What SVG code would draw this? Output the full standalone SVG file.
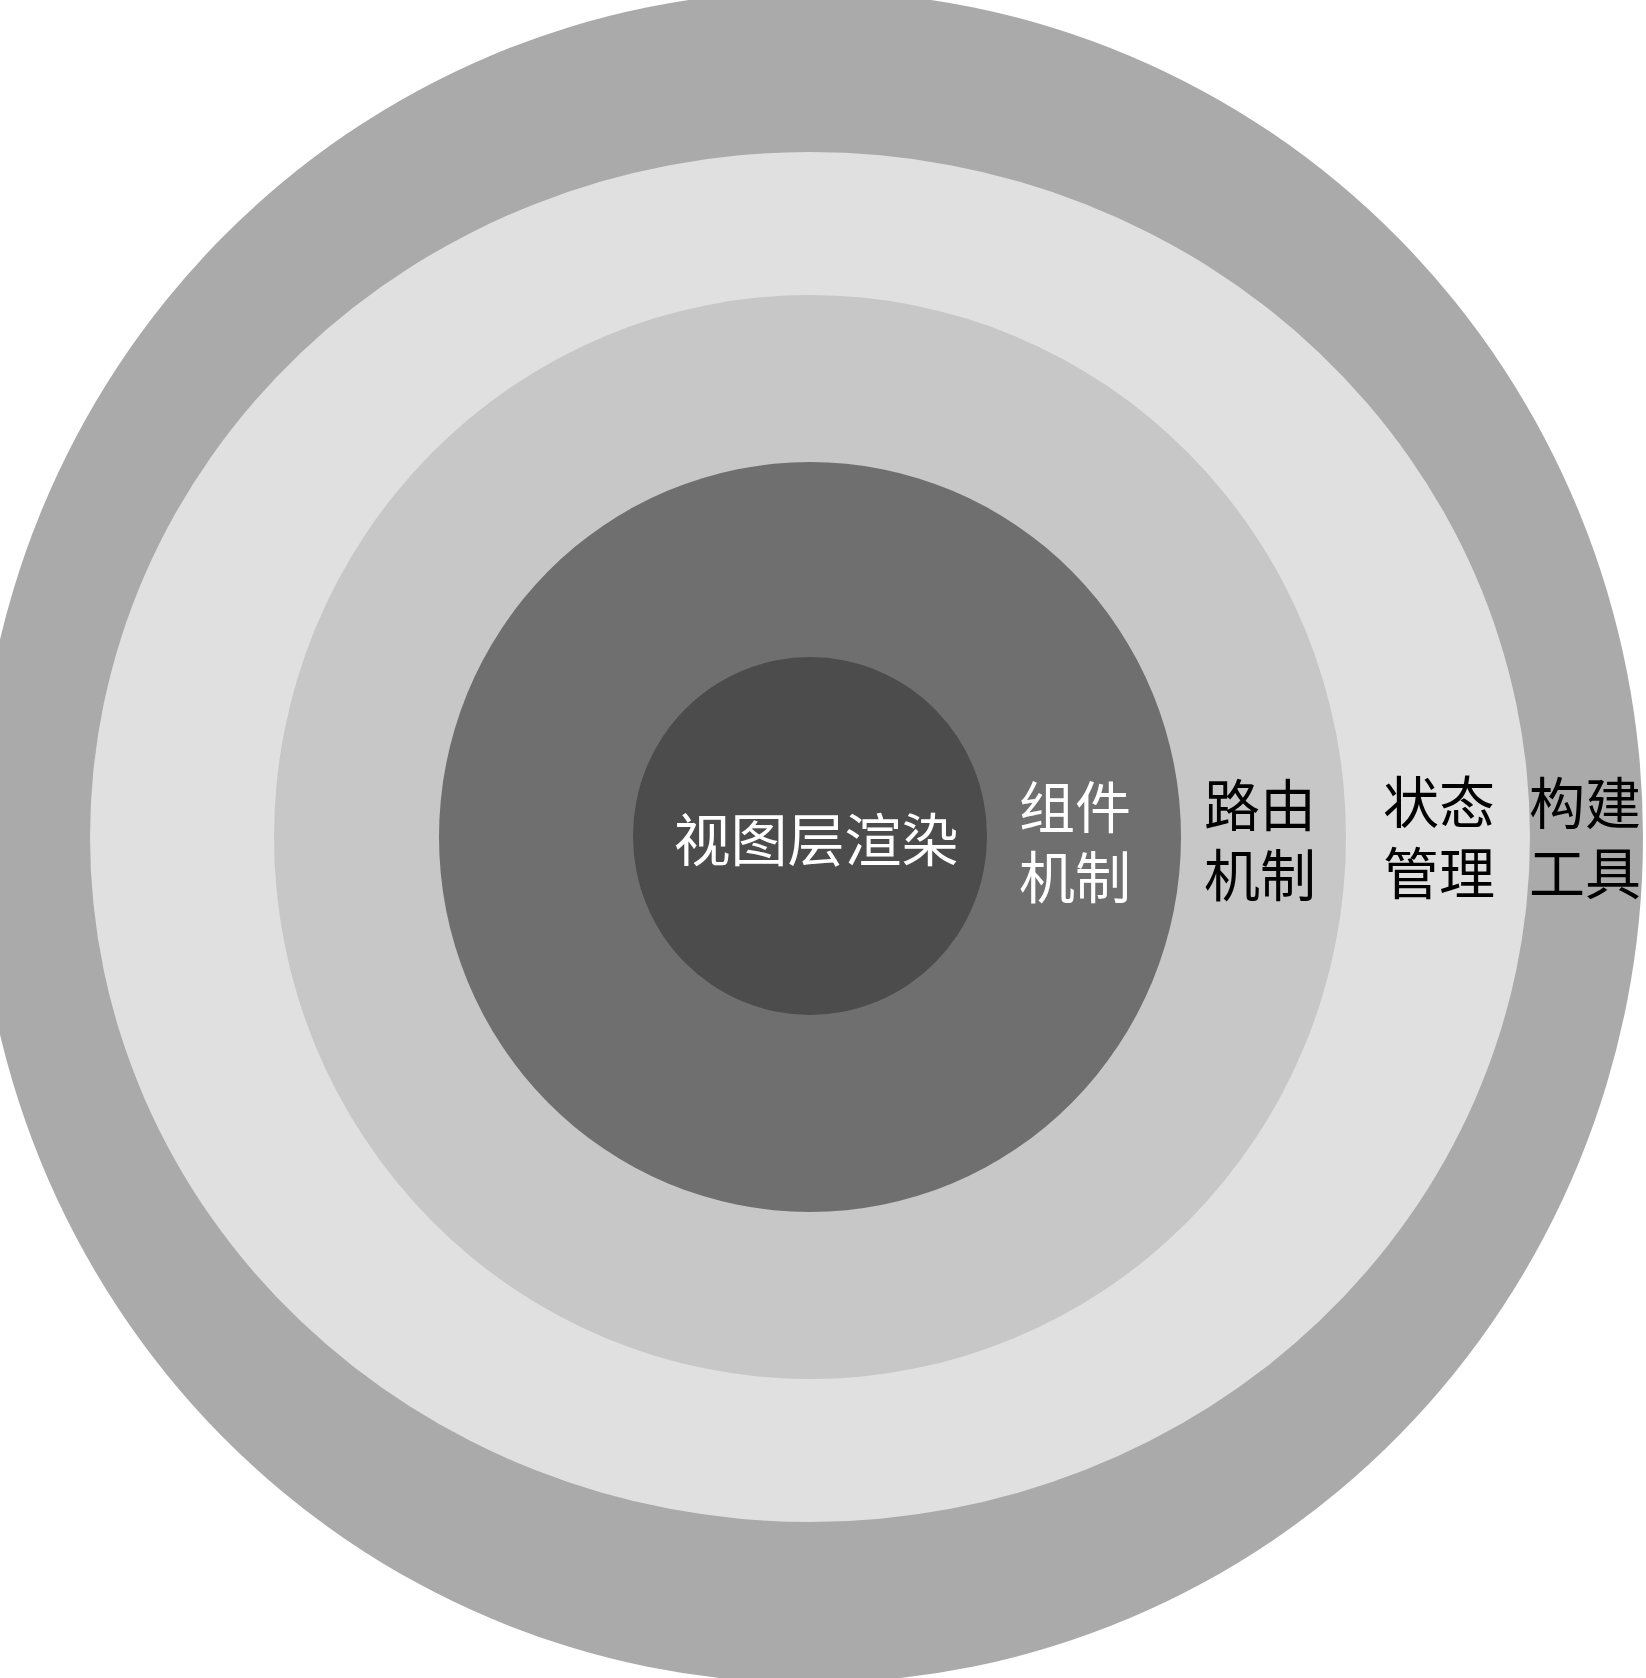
<svg xmlns="http://www.w3.org/2000/svg" width="1646" height="1678" viewBox="0 0 1646 1678">
  <style>
    .lbl { font-family: "Liberation Serif", "Noto Sans CJK SC", "Noto Sans CJK JP", serif; font-size: 56px; text-anchor: middle; }
    .w { fill: #ffffff; }
    .k { fill: #000000; }
  </style>
  <rect x="0" y="0" width="1646" height="1678" fill="#ffffff"/>
  <g id="ring-build">
    <ellipse cx="810" cy="837" rx="833" ry="846" fill="#aaaaaa"/>
  </g>
  <g id="ring-state">
    <ellipse cx="810" cy="837" rx="720" ry="685" fill="#e0e0e0"/>
  </g>
  <g id="ring-router">
    <ellipse cx="810" cy="837" rx="536" ry="542" fill="#c7c7c7"/>
  </g>
  <g id="ring-component">
    <ellipse cx="810" cy="837" rx="371" ry="375" fill="#6f6f6f"/>
  </g>
  <g id="core-view">
    <ellipse cx="810" cy="836" rx="177" ry="179" fill="#4c4c4c"/>
  </g>
  <g id="connectors"></g>
  <g id="labels">
    <text class="lbl w" x="816" y="861" style="font-size:57px">视图层渲染</text>
    <text class="lbl w"><tspan x="1075" y="828">组件</tspan><tspan x="1075" y="898">机制</tspan></text>
    <text class="lbl k"><tspan x="1260" y="826">路由</tspan><tspan x="1260" y="896">机制</tspan></text>
    <text class="lbl k"><tspan x="1439" y="823">状态</tspan><tspan x="1439" y="894">管理</tspan></text>
    <text class="lbl k"><tspan x="1585" y="824">构建</tspan><tspan x="1585" y="894">工具</tspan></text>
  </g>
</svg>
